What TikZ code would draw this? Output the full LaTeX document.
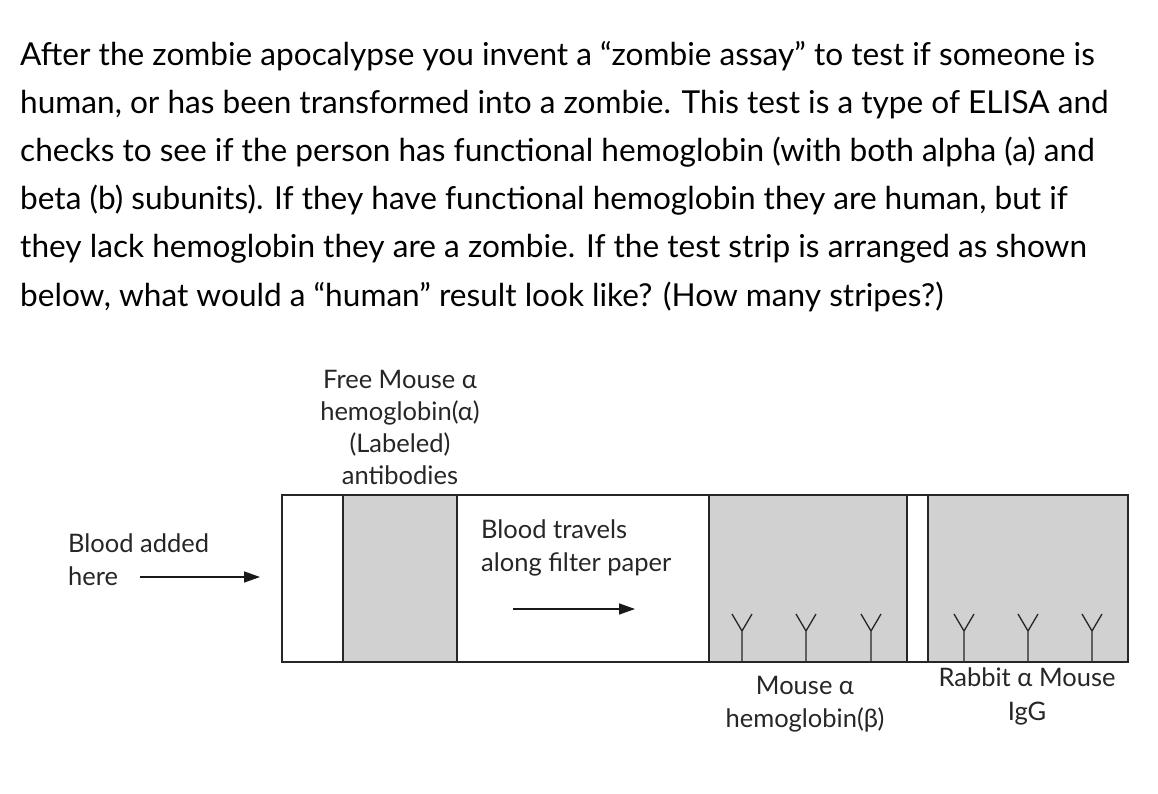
\documentclass[tikz,border=0pt]{standalone}
\usepackage{fontspec}
\setmainfont{Lato}
\usetikzlibrary{arrows.meta}
\begin{document}
\begin{tikzpicture}[x=1pt,y=-1pt,
  para/.style={anchor=base west,inner sep=0,font=\fontsize{31.6}{36}\selectfont},
  lbl/.style={anchor=base,inner sep=0,font=\fontsize{25.5}{30}\selectfont,text=black!85},
  box/.style={draw=black!85,line width=1.5pt},
  ab/.style={draw=black!85,line width=1.3pt},
  arr/.style={draw=black!90,line width=1.5pt,-{Triangle[length=16pt,width=11pt]}}]
\useasboundingbox (0,0) rectangle (1158,794);
\node[para] (l1) at (20,66) {After the zombie apocalypse you invent a “zombie assay” to test if someone is};
\node[para] (l2) at (20,114) {human, or has been transformed into a zombie. This test is a type of ELISA and};
\node[para] (l3) at (20,162) {checks to see if the person has functional hemoglobin (with both alpha (a) and};
\node[para] (l4) at (20,210) {beta (b) subunits). If they have functional hemoglobin they are human, but if};
\node[para] (l5) at (20,258) {they lack hemoglobin they are a zombie. If the test strip is arranged as shown};
\node[para] (l6) at (20,306) {below, what would a “human” result look like? (How many stripes?)};
% strip
\draw[box] (282,495) rectangle (1128,662);
\draw[box,fill=black!18] (343,495) rectangle (457,662);
\draw[box,fill=black!18] (709,495) rectangle (907,662);
\draw[box,fill=black!18] (928,495) rectangle (1128,662);
\foreach \x in {742,806,871,964,1028,1092}{
  \draw[ab] (\x,662) -- (\x,631) -- (\x-10,614) (\x,631) -- (\x+10,614);}
% labels
\node[lbl] (f1) at (400,388) {Free Mouse α};
\node[lbl] (f2) at (400,420) {hemoglobin(α)};
\node[lbl] (f3) at (400,452) {(Labeled)};
\node[lbl] (f4) at (400,484) {antibodies};
\node[lbl,anchor=base west] (b1) at (68,552) {Blood added};
\node[lbl,anchor=base west] (b2) at (68,585) {here};
\coordinate (h1) at (140,577); \coordinate (h2) at (260,577);
\draw[arr] (h1) -- (h2);
\node[lbl,anchor=base west] (t1) at (481,538) {Blood travels};
\node[lbl,anchor=base west] (t2) at (481,571) {along filter paper};
\coordinate (t3) at (513,609); \coordinate (t4) at (635,609);
\draw[arr] (t3) -- (t4);
\node[lbl] (m1) at (805,694) {Mouse α};
\node[lbl] (m2) at (805,727) {hemoglobin(β)};
\node[lbl] (r1) at (1027,686) {Rabbit α Mouse};
\node[lbl] (r2) at (1027,720) {IgG};
\end{tikzpicture}
\end{document}
